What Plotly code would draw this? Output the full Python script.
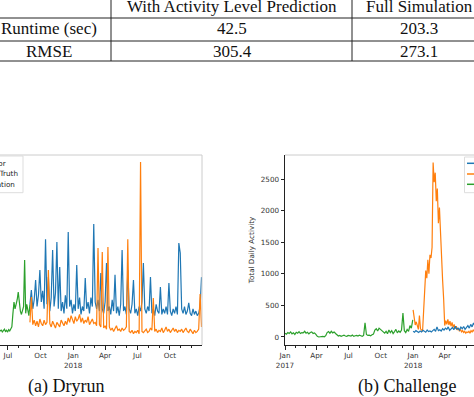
import plotly.graph_objects as go
import pandas as pd

W, H = 474, 397

# ---------------- data ----------------
table_header = ["With Activity Level Prediction", "Full Simulation"]
table_row_labels = ["Runtime (sec)", "RMSE"]
table_pred = ["42.5", "305.4"]
table_full = ["203.3", "273.1"]

series_names = ["Simulator", "Ground Truth", "Initialization"]
colors = ["#1f77b4", "#ff7f0e", "#2ca02c"]

# (a) Dryrun
dry_pred_start = "2017-09-01"   # every 4 days
dry_blue = [140, 203, 120, 160, 247, 130, 180, 291, 150, 200, 120, 428, 140, 260, 110, 170, 380, 130, 190, 415,
            120, 305, 110, 150, 100, 180, 120, 460, 130, 160, 100, 140, 110, 314, 120, 170, 95, 130, 110, 256,
            120, 150, 100, 170, 130, 495, 150, 120, 160, 110, 278, 120, 100, 150, 322, 110, 130, 95, 160, 110,
            270, 100, 130, 90, 140, 380, 110, 130, 95, 291, 120, 100, 140, 247, 100, 120, 90, 130, 110, 150,
            322, 120, 100, 130, 110, 260, 100, 120, 90, 140, 110, 100, 216, 95, 120, 100, 130, 95, 234, 110,
            90, 120, 100, 130, 95, 411, 367, 120, 100, 130, 95, 110, 146, 100, 90, 120, 95, 110, 90, 100,
            130, 260]
dry_orange = [60, 172, 50, 70, 45, 65, 40, 75, 55, 45, 70, 50, 60, 291, 55, 40, 65, 45, 35, 60,
              50, 40, 70, 55, 45, 65, 50, 80, 60, 90, 70, 55, 85, 65, 75, 95, 60, 80, 55, 70,
              60, 85, 50, 65, 75, 55, 60, 45, 389, 50, 40, 371, 35, 45, 30, 393, 40, 25, 35, 20,
              30, 45, 25, 30, 20, 35, 25, 30, 40, 428, 20, 15, 25, 10, 20, 15, 25, 10, 769, 20,
              15, 25, 30, 15, 20, 35, 25, 168, 20, 30, 15, 25, 20, 35, 15, 25, 40, 20, 30, 15,
              25, 35, 20, 30, 15, 25, 20, 30, 15, 25, 35, 20, 15, 30, 20, 10, 25, 15, 20, 30,
              185, 40]
dry_green_start = "2017-05-01"  # every 3 days
dry_green = [30, 25, 35, 20, 28, 32, 22, 30, 26, 35, 24, 30, 28,
             22, 26, 18, 24, 30, 20, 25, 17, 28, 22, 35, 40,
             100, 150, 120, 135, 160, 194, 140, 110, 95, 120, 130, 336, 100, 140, 120, 90, 140]

# (b) Challenge
ch_green_start = "2017-01-01"   # every 4 days
ch_green = [60, 45, 70, 55, 80, 50, 65, 40, 75, 60, 85, 55, 70, 65, 90, 60, 75, 50, 70, 80, 55, 65,
            40, 10, 0, 5, 0, 8, 3, 20,
            70, 85, 60, 90, 65, 80, 55, 30,
            15, 25, 10, 20, 30, 15, 10, 25, 20, 15, 30, 10, 20, 25, 15, 30, 20, 10, 25,
            225,
            40, 25, 30, 20, 35, 45,
            110, 130, 95, 140, 120, 100, 80,
            60, 90, 50, 110, 70, 100, 55, 85, 120, 65, 95, 75, 110,
            380,
            100, 70, 120, 90, 180, 140,
            270]
ch_blue_start = "2018-01-01"    # every 4 days
ch_blue = [90, 75, 100, 85, 70, 95, 80, 105, 90, 75, 110, 85, 95, 80, 100,
           120, 90, 160, 100, 115, 95, 130, 110,
           140, 120, 160, 105, 130, 150, 115, 170, 125, 140, 110, 155,
           130, 165, 120, 150, 180, 140, 200, 160, 220, 180, 210]
ch_orange_start = "2018-01-01"  # every 3 days
ch_orange = [430, 280, 190, 240, 150, 120, 340, 130, 110, 100,
             420, 760, 1050, 930, 1220, 1000, 1300, 1250, 1420, 2760,
             2450, 2600, 2150, 2350, 1800, 2050, 1550, 1250, 900, 600,
             180, 260, 200, 280, 190, 250, 170, 230, 150, 200,
             130, 170, 110, 140, 90, 120, 80, 100, 70, 90,
             60, 80, 70, 90, 60, 100, 80, 110, 90, 120]

dry_xticks = ["2017-07-01", "2017-10-01", "2018-01-01", "2018-04-01", "2018-07-01", "2018-10-01"]
dry_xtext = ["Jul", "Oct", "Jan<br>2018", "Apr", "Jul", "Oct"]
ch_xticks = ["2017-01-01", "2017-04-01", "2017-07-01", "2017-10-01", "2018-01-01", "2018-04-01", "2018-07-01"]
ch_xtext = ["Jan<br>2017", "Apr", "Jul", "Oct", "Jan<br>2018", "Apr", "Jul"]
ch_yticks = [0, 500, 1000, 1500, 2000, 2500]

# ---------------- helpers ----------------
def px(x):
    return x / W

def py(y):
    return 1 - y / H

def dates(start, n, step):
    return pd.date_range(start, periods=n, freq=f"{step}D")

TICKFONT = dict(family="DejaVu Sans", size=7.2, color="#333333")
SERIF = "Liberation Serif"

fig = go.Figure()

# Dryrun traces (x/y)
fig.add_trace(go.Scatter(x=dates(dry_green_start, len(dry_green), 3), y=dry_green, mode="lines",
                         line=dict(color=colors[2], width=1.2), name=series_names[2], showlegend=False,
                         xaxis="x", yaxis="y"))
fig.add_trace(go.Scatter(x=dates(dry_pred_start, len(dry_blue), 4), y=dry_blue, mode="lines",
                         line=dict(color=colors[0], width=1.2), name=series_names[0], showlegend=False,
                         xaxis="x", yaxis="y"))
fig.add_trace(go.Scatter(x=dates(dry_pred_start, len(dry_orange), 4), y=dry_orange, mode="lines",
                         line=dict(color=colors[1], width=1.2), name=series_names[1], showlegend=False,
                         xaxis="x", yaxis="y"))

# Challenge traces (x2/y2)
fig.add_trace(go.Scatter(x=dates(ch_green_start, len(ch_green), 4), y=ch_green, mode="lines",
                         line=dict(color=colors[2], width=1.2), name=series_names[2], showlegend=False,
                         xaxis="x2", yaxis="y2"))
fig.add_trace(go.Scatter(x=dates(ch_orange_start, len(ch_orange), 3), y=ch_orange, mode="lines",
                         line=dict(color=colors[1], width=1.2), name=series_names[1], showlegend=False,
                         xaxis="x2", yaxis="y2"))
fig.add_trace(go.Scatter(x=dates(ch_blue_start, len(ch_blue), 4), y=ch_blue, mode="lines",
                         line=dict(color=colors[0], width=1.2), name=series_names[0], showlegend=False,
                         xaxis="x2", yaxis="y2"))

# axis ranges (the figure is a crop of a wider page)
jan17 = pd.Timestamp("2017-01-01")
L_ppd, L_jan_px = 0.3545, -56.2
dry_range = [jan17 + pd.Timedelta(days=(0 - L_jan_px) / L_ppd),
             jan17 + pd.Timedelta(days=(202 - L_jan_px) / L_ppd)]
R_ppd, R_jan_px = 0.351, 285
ch_range = [jan17, jan17 + pd.Timedelta(days=(W - R_jan_px) / R_ppd)]

ydom = [py(345), py(155)]
common_x = dict(showline=True, linecolor="#222222", linewidth=1, ticks="outside", ticklen=3.5,
                tickwidth=0.8, tickcolor="#222222", tickfont=TICKFONT, showgrid=False, zeroline=False,
                minor=dict(ticks="outside", ticklen=2, tickwidth=0.6, tickcolor="#222222",
                           dtick="M1", tick0="2017-01-01", showgrid=False))

fig.update_layout(
    width=W, height=H,
    margin=dict(l=0, r=0, t=0, b=0, autoexpand=False),
    paper_bgcolor="white", plot_bgcolor="white",
    showlegend=False,
    xaxis=dict(domain=[0, px(202)], range=dry_range, anchor="y",
               tickvals=dry_xticks, ticktext=dry_xtext, **common_x),
    yaxis=dict(domain=ydom, range=[-40, 800], anchor="x", visible=False),
    xaxis2=dict(domain=[px(285), 1], range=ch_range, anchor="y2",
                tickvals=ch_xticks, ticktext=ch_xtext, **common_x),
    yaxis2=dict(domain=ydom, range=[-127, 2880], anchor="x2", showline=True, linecolor="#222222",
                linewidth=1, ticks="outside", ticklen=3.5, tickwidth=0.8, tickcolor="#222222",
                tickvals=ch_yticks, tickfont=TICKFONT, showgrid=False, zeroline=False,
                title=dict(text="Total Daily Activity", font=TICKFONT, standoff=5)),
)

shapes = []
ann = []
# light top / right spines
shapes.append(dict(type="line", xref="paper", yref="paper", x0=0, x1=px(202), y0=py(155), y1=py(155),
                   line=dict(color="#cccccc", width=1)))
shapes.append(dict(type="line", xref="paper", yref="paper", x0=px(202), x1=px(202), y0=py(155), y1=py(345),
                   line=dict(color="#cccccc", width=1)))
shapes.append(dict(type="line", xref="paper", yref="paper", x0=px(285), x1=1.02, y0=py(155), y1=py(155),
                   line=dict(color="#cccccc", width=1)))

# table lines
for yy in [18, 41, 61]:
    shapes.append(dict(type="line", xref="paper", yref="paper", x0=-0.01, x1=1.01, y0=py(yy), y1=py(yy),
                       line=dict(color="#222222", width=1)))
for xx in [111, 352]:
    shapes.append(dict(type="line", xref="paper", yref="paper", x0=px(xx), x1=px(xx), y0=1.01, y1=py(61),
                       line=dict(color="#222222", width=1)))

TFONT = dict(family=SERIF, size=17, color="#111111")
def txt(x, y, s, font, xanchor="center"):
    ann.append(dict(x=px(x), y=py(y), xref="paper", yref="paper", text=s, showarrow=False,
                    xanchor=xanchor, yanchor="middle", font=font))

txt(232, 6, table_header[0], TFONT)
txt(419, 6, table_header[1], TFONT)
for r, yy in enumerate([29, 51]):
    txt(49, yy, table_row_labels[r], TFONT)
    txt(232, yy, table_pred[r], TFONT)
    txt(419, yy, table_full[r], TFONT)

# captions
CFONT = dict(family=SERIF, size=18, color="#111111")
txt(66, 386, "(a) Dryrun", CFONT)
txt(407, 386, "(b) Challenge", CFONT)

# legends (matplotlib style, drawn as boxes + text)
LFONT = dict(family="DejaVu Sans", size=7.2, color="#222222")
rows_y = [163.3, 174, 184.3]
# left legend (mostly cut off)
shapes.append(dict(type="rect", xref="paper", yref="paper", x0=px(-66), x1=px(23), y0=py(156), y1=py(192.7),
                   line=dict(color="#dddddd", width=1), fillcolor="rgba(255,255,255,0.85)", layer="above"))
for i in range(3):
    shapes.append(dict(type="line", xref="paper", yref="paper", x0=px(-60), x1=px(-40), y0=py(rows_y[i]),
                       y1=py(rows_y[i]), line=dict(color=colors[i], width=1.5), layer="above"))
    txt(-31, rows_y[i], series_names[i], LFONT, xanchor="left")
# right legend (mostly cut off)
shapes.append(dict(type="rect", xref="paper", yref="paper", x0=px(464.5), x1=px(560), y0=py(157), y1=py(192.7),
                   line=dict(color="#dddddd", width=1), fillcolor="rgba(255,255,255,0.85)", layer="above"))
for i in range(3):
    shapes.append(dict(type="line", xref="paper", yref="paper", x0=px(467), x1=px(487), y0=py(rows_y[i]),
                       y1=py(rows_y[i]), line=dict(color=colors[i], width=1.5), layer="above"))
    txt(495, rows_y[i], series_names[i], LFONT, xanchor="left")

fig.update_layout(shapes=shapes, annotations=ann)
fig.write_html("out.html", config={"displayModeBar": False},
               post_script="document.body.style.margin='0';document.body.style.overflow='hidden';")
